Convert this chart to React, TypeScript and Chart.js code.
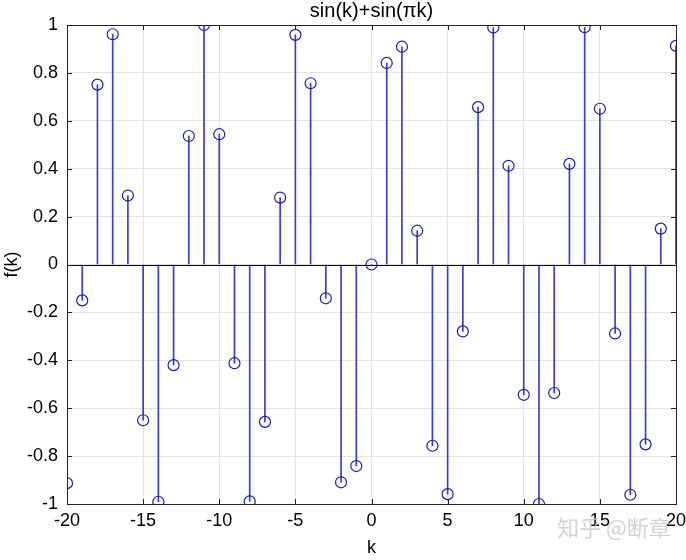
import React, { useEffect, useRef } from "react";
import { Chart, registerables } from "chart.js";
Chart.register(...registerables);

const kValues = [
  -20, -19, -18, -17, -16, -15, -14, -13, -12, -11, -10, -9, -8, -7, -6, -5, -4, -3, -2, -1,
  0, 1, 2, 3, 4, 5, 6, 7, 8, 9, 10, 11, 12, 13, 14, 15, 16, 17, 18, 19, 20,
];
const fValues = [
  -0.9129, -0.1499, 0.751, 0.9614, 0.2879, -0.6503, -0.9906, -0.4202, 0.5366, 1.0, 0.544,
  -0.4121, -0.9894, -0.657, 0.2794, 0.9589, 0.7568, -0.1411, -0.9093, -0.8415,
  0, 0.8415, 0.9093, 0.1411, -0.7568, -0.9589, -0.2794, 0.657, 0.9894, 0.4121, -0.544,
  -1.0, -0.5366, 0.4202, 0.9906, 0.6503, -0.2879, -0.9614, -0.751, 0.1499, 0.9129,
];
const xTicks = [-20, -15, -10, -5, 0, 5, 10, 15, 20];
const yTicks = [-1, -0.8, -0.6, -0.4, -0.2, 0, 0.2, 0.4, 0.6, 0.8, 1];
const titleText = "sin(k)+sin(πk)";
const xLabel = "k";
const yLabel = "f(k)";
const watermark = "知乎 @断章";

const FONT = "'Liberation Sans', Arial, sans-serif";
const STEM = "#3a3ad8";
const MARKER = "#1c1ca8";

const decorPlugin = {
  id: "decor",
  afterDatasetsDraw(chart: any) {
    const { ctx, chartArea: a, scales } = chart;
    ctx.save();
    const y0 = Math.round(scales.y.getPixelForValue(0)) + 0.5;
    ctx.strokeStyle = "#000";
    ctx.lineWidth = 1;
    ctx.beginPath();
    ctx.moveTo(a.left, y0);
    ctx.lineTo(a.right, y0);
    ctx.stroke();
    ctx.strokeStyle = "#222";
    ctx.strokeRect(Math.round(a.left) + 0.5, Math.round(a.top) + 0.5, Math.round(a.right - a.left), Math.round(a.bottom - a.top));
    const tl = 5;
    ctx.beginPath();
    xTicks.forEach((v) => {
      const x = Math.round(scales.x.getPixelForValue(v)) + 0.5;
      ctx.moveTo(x, a.bottom);
      ctx.lineTo(x, a.bottom - tl);
      ctx.moveTo(x, a.top);
      ctx.lineTo(x, a.top + tl);
    });
    yTicks.forEach((v) => {
      const y = Math.round(scales.y.getPixelForValue(v)) + 0.5;
      ctx.moveTo(a.left, y);
      ctx.lineTo(a.left + tl, y);
      ctx.moveTo(a.right, y);
      ctx.lineTo(a.right - tl, y);
    });
    ctx.stroke();
    ctx.restore();
  },
  afterDraw(chart: any) {
    const { ctx, chartArea: a } = chart;
    const cx = (a.left + a.right) / 2;
    ctx.save();
    ctx.fillStyle = "#000";
    ctx.textAlign = "center";
    ctx.textBaseline = "middle";
    ctx.font = `20px ${FONT}`;
    ctx.fillText(titleText, cx, 11);
    ctx.font = `18px ${FONT}`;
    ctx.fillText(xLabel, cx, 548);
    ctx.save();
    ctx.translate(12, (a.top + a.bottom) / 2);
    ctx.rotate(-Math.PI / 2);
    ctx.fillText(yLabel, 0, 0);
    ctx.restore();
    ctx.font = `22px 'Noto Sans CJK SC', sans-serif`;
    ctx.fillStyle = "rgba(200,200,200,0.8)";
    ctx.fillText(watermark, 614, 528);
    ctx.restore();
  },
};

export default function App() {
  const ref = useRef<HTMLCanvasElement>(null);
  useEffect(() => {
    if (!ref.current) return;
    const pts = kValues.map((k, i) => ({ x: k, y: fValues[i] }));
    const chart = new Chart(ref.current, {
      type: "bar",
      data: {
        datasets: [
          {
            type: "bar",
            data: pts,
            backgroundColor: STEM,
            barThickness: 1,
            order: 2,
          } as any,
          {
            type: "line",
            data: pts,
            showLine: false,
            pointRadius: 5.5,
            pointBorderWidth: 1.2,
            pointBackgroundColor: "rgba(0,0,0,0)",
            pointBorderColor: MARKER,
            order: 1,
          } as any,
        ],
      },
      options: {
        animation: false,
        responsive: false,
        devicePixelRatio: 1,
        layout: { padding: { top: 25, right: 10, bottom: 0, left: 0 } },
        plugins: { legend: { display: false }, tooltip: { enabled: false }, title: { display: false } },
        scales: {
          x: {
            type: "linear",
            min: -20,
            max: 20,
            offset: false,
            afterBuildTicks: (s: any) => {
              s.ticks = xTicks.map((v) => ({ value: v }));
            },
            afterFit: (s: any) => {
              s.height = 56;
              s.paddingRight = 0;
              s.paddingLeft = 0;
            },
            grid: { color: "#e3e3e3", drawTicks: false, offset: false },
            border: { display: false },
            ticks: {
              color: "#000",
              font: { family: FONT, size: 18 },
              padding: 6,
              maxRotation: 0,
              callback: (v: any) => String(v),
            },
          },
          y: {
            type: "linear",
            min: -1,
            max: 1,
            afterBuildTicks: (s: any) => {
              s.ticks = yTicks.map((v) => ({ value: v }));
            },
            afterFit: (s: any) => {
              s.width = 67;
            },
            grid: { color: "#e3e3e3", drawTicks: false },
            border: { display: false },
            ticks: {
              color: "#000",
              font: { family: FONT, size: 18 },
              padding: 9,
              callback: (v: any) => String(Math.round(Number(v) * 10) / 10),
            },
          },
        },
      } as any,
      plugins: [decorPlugin],
    });
    return () => chart.destroy();
  }, []);
  return (
    <div style={{ position: "absolute", left: 0, top: 0, width: 686, height: 560, background: "#fff" }}>
      <canvas ref={ref} width={686} height={560} style={{ width: 686, height: 560 }} />
    </div>
  );
}
